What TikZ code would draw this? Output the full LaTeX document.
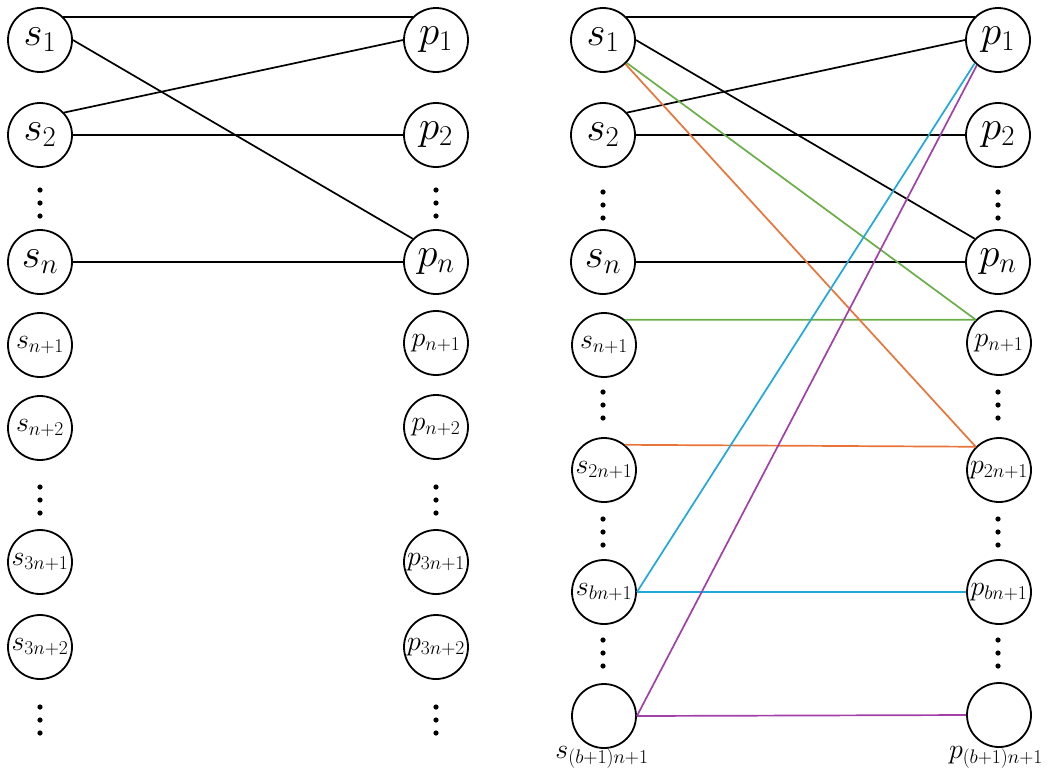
\documentclass[tikz,border=0pt]{standalone}
\usepackage{fix-cm}
\usepackage{xcolor}

\definecolor{edgegreen}{HTML}{6AAE48}
\definecolor{edgeorange}{HTML}{E9743A}
\definecolor{edgecyan}{HTML}{1FA8DA}
\definecolor{edgepurple}{HTML}{A23FA8}

\tikzset{
    vertex/.style={draw, circle, line width=1.8pt, minimum size=64pt, inner sep=0pt,
        font=\fontsize{41}{46}\selectfont},
    smallvertex/.style={vertex, font=\fontsize{28}{32}\selectfont},
    edge/.style={line width=1.7pt},
    under/.style={font=\fontsize{28}{32}\selectfont}
}
% three stacked dots, centred on the given point
\newcommand{\dotstack}[1]{%
    \fill (#1) ++(0,-13) circle (2.6) ++(0,13) circle (2.6) ++(0,13) circle (2.6);}

\begin{document}
\begin{tikzpicture}[x=1pt, y=-1pt]
    \useasboundingbox (0,0) rectangle (1048,780);

    % left graph
    \node[vertex] (s1) at (40,40) {$s_1$};
    \node[vertex] (s2) at (40,135) {$s_2$};
    \node[vertex] (sn) at (40,262) {$s_n$};
    \node[smallvertex] (sn1) at (40,345) {$s_{n+1}$};
    \node[smallvertex] (sn2) at (40,428) {$s_{n+2}$};
    \node[smallvertex] (s3n1) at (40,562) {$s_{3n+1}$};
    \node[smallvertex] (s3n2) at (40,647) {$s_{3n+2}$};
    \node[vertex] (p1) at (436,40) {$p_1$};
    \node[vertex] (p2) at (436,135) {$p_2$};
    \node[vertex] (pn) at (436,262) {$p_n$};
    \node[smallvertex] (pn1) at (436,343) {$p_{n+1}$};
    \node[smallvertex] (pn2) at (436,427) {$p_{n+2}$};
    \node[smallvertex] (p3n1) at (436,562) {$p_{3n+1}$};
    \node[smallvertex] (p3n2) at (436,647) {$p_{3n+2}$};
    \dotstack{40,203} \dotstack{40,500} \dotstack{40,720}
    \dotstack{436,203} \dotstack{436,500} \dotstack{436,720}

    \draw[edge] (s1.45) -- (p1.135);
    \draw[edge] (s1.east) -- (pn.135);
    \draw[edge] (s2.43) -- (p1.west);
    \draw[edge] (s2.east) -- (p2.west);
    \draw[edge] (sn.east) -- (pn.west);

    % right graph
    \node[vertex] (t1) at (603,40) {$s_1$};
    \node[vertex] (t2) at (603,135) {$s_2$};
    \node[vertex] (tn) at (603,262) {$s_n$};
    \node[smallvertex] (tn1) at (604,345) {$s_{n+1}$};
    \node[smallvertex] (t2n1) at (604,470) {$s_{2n+1}$};
    \node[smallvertex] (tbn1) at (604,592) {$s_{bn+1}$};
    \node[smallvertex] (tlast) at (604,716) {};
    \node[under] (tlabel) at (602,757) {$s_{(b+1)n+1}$};
    \node[vertex] (q1) at (998,40) {$p_1$};
    \node[vertex] (q2) at (998,135) {$p_2$};
    \node[vertex] (qn) at (998,262) {$p_n$};
    \node[smallvertex] (qn1) at (999,343) {$p_{n+1}$};
    \node[smallvertex] (q2n1) at (999,470) {$p_{2n+1}$};
    \node[smallvertex] (qbn1) at (999,592) {$p_{bn+1}$};
    \node[smallvertex] (qlast) at (999,715) {};
    \node[under] (qlabel) at (996,757) {$p_{(b+1)n+1}$};
    \dotstack{603,205} \dotstack{603,405} \dotstack{603,532} \dotstack{603,653}
    \dotstack{998,205} \dotstack{998,405} \dotstack{998,532} \dotstack{998,653}

    \draw[edge] (t1.45) -- (q1.135);
    \draw[edge] (t1.east) -- (qn.135);
    \draw[edge] (t2.43) -- (q1.west);
    \draw[edge] (t2.east) -- (q2.west);
    \draw[edge] (tn.east) -- (qn.west);
    \draw[edge, edgegreen] (t1.-44) -- (qn1.135);
    \draw[edge, edgegreen] (tn1.50) -- (qn1.135);
    \draw[edge, edgeorange] (t1.-47) -- (q2n1.135);
    \draw[edge, edgeorange] (t2n1.50) -- (q2n1.135);
    \draw[edge, edgecyan] (tbn1.east) -- (q1.-135);
    \draw[edge, edgecyan] (tbn1.east) -- (qbn1.west);
    \draw[edge, edgepurple] (tlast.east) -- (q1.-130);
    \draw[edge, edgepurple] (tlast.east) -- (qlast.west);
\end{tikzpicture}
\end{document}
